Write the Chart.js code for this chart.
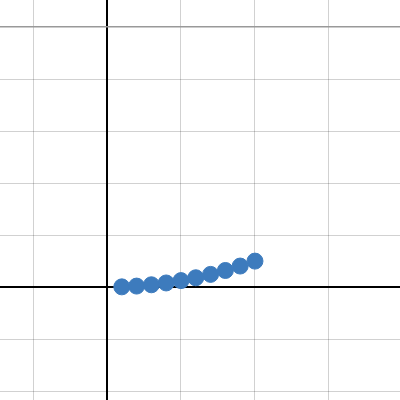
<!DOCTYPE html>
<html>
<head>
<meta charset="utf-8">
<script src="https://cdn.jsdelivr.net/npm/chart.js@4"></script>
<style>
  html, body { margin: 0; padding: 0; background: #fff; }
  #wrap { width: 400px; height: 400px; }
</style>
</head>
<body>
<div id="wrap"><canvas id="chart"></canvas></div>
<script>
const xValues = [0.2, 0.4, 0.6, 0.8, 1.0, 1.2, 1.4, 1.6, 1.8, 2.0];
const yValues = [0.005, 0.02, 0.045, 0.08, 0.125, 0.18, 0.245, 0.32, 0.405, 0.5];
const xTicks = [-1, 0, 1, 2, 3];
const yTicks = [-2, -1, 0, 1, 2, 3, 4, 5];

const points = xValues.map((x, i) => ({ x: x, y: yValues[i] }));

function gridColor(ctx) {
  if (ctx.tick && ctx.tick.value === 0) return "#000";
  if (ctx.tick && ctx.tick.value === 5) return "#999";
  return "rgba(0,0,0,0.18)";
}
function gridWidth(ctx) {
  if (ctx.tick && ctx.tick.value === 0) return 2;
  if (ctx.tick && ctx.tick.value === 5) return 1.5;
  return 1;
}

new Chart(document.getElementById("chart"), {
  type: "scatter",
  data: {
    datasets: [{
      data: points,
      backgroundColor: "#3d7bbd",
      borderColor: "#3d7bbd",
      pointRadius: 8,
      pointHoverRadius: 8
    }]
  },
  options: {
    responsive: true,
    maintainAspectRatio: false,
    animation: false,
    layout: { padding: 0, autoPadding: false },
    plugins: { legend: { display: false }, tooltip: { enabled: false } },
    scales: {
      x: {
        type: "linear",
        min: -1.446,
        max: 3.96,
        afterBuildTicks: (axis) => { axis.ticks = xTicks.map(v => ({ value: v })); },
        ticks: { display: false },
        border: { display: false },
        grid: { color: gridColor, lineWidth: gridWidth, drawTicks: false }
      },
      y: {
        type: "linear",
        min: -2.17,
        max: 5.52,
        afterBuildTicks: (axis) => { axis.ticks = yTicks.map(v => ({ value: v })); },
        ticks: { display: false },
        border: { display: false },
        grid: { color: gridColor, lineWidth: gridWidth, drawTicks: false }
      }
    }
  }
});
</script>
</body>
</html>
